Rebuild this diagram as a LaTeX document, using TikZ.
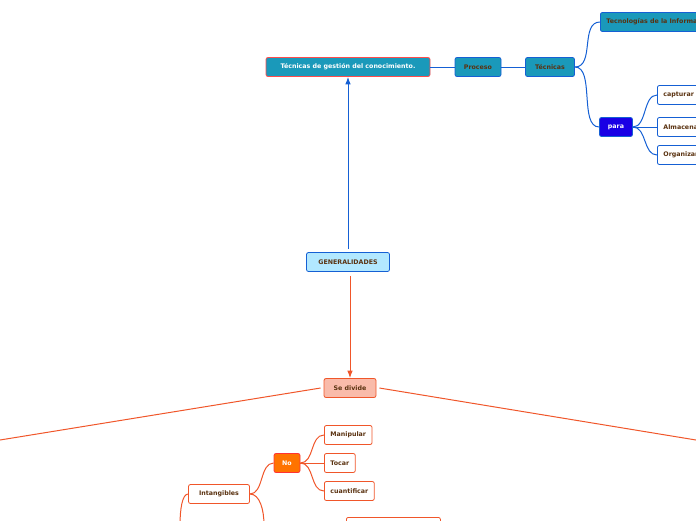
\documentclass[tikz,border=0pt]{standalone}
\usepackage{fontspec}
\setmainfont{DejaVu Sans}
\usetikzlibrary{arrows.meta,positioning}
\definecolor{teal1}{HTML}{1A99BA}
\definecolor{blue1}{HTML}{1560D4}
\definecolor{brown1}{HTML}{5A3210}
\definecolor{orange1}{HTML}{F0562A}
\tikzset{
  box/.style={rounded corners=2pt,line width=0.8pt,minimum height=19,inner xsep=6pt,
    font=\fontsize{6.3}{7}\selectfont\bfseries,text=brown1},
  tbox/.style={box,fill=teal1,draw=blue1},
  wbox/.style={box,fill=white,draw=blue1},
  obox/.style={box,fill=white,draw=orange1},
  bl/.style={blue1,line width=1pt},
  ol/.style={orange1,line width=1pt}
}
\begin{document}
\begin{tikzpicture}[x=1pt,y=-1pt,>=Latex]
  \clip (0,0) rectangle (696,520);
  \useasboundingbox (0,0) rectangle (696,520);
  %
  % Upper branch
  \node[tbox,draw=red!70,text=white,minimum width=164] (tecg) at (348,67) {Técnicas de gestión del conocimiento.};
  \node[tbox,minimum width=46] (proc) at (478,67) {Proceso};
  \node[tbox,minimum width=49] (tec) at (550,67) {Técnicas};
  \node[tbox,anchor=west] (tic) at (600,22) {Tecnologías de la Información};
  \node[box,fill=blue!80!violet,draw=blue1,text=white,minimum width=33] (para) at (616,127) {para};
  \node[wbox,anchor=west] (capt) at (657,95) {capturar};
  \node[wbox,anchor=west] (alma) at (657,127) {Almacenar};
  \node[wbox,anchor=west] (orga) at (657,155) {Organizar};
  %
  \draw[bl] (tecg) -- (proc);
  \draw[bl] (proc) -- (tec);
  \draw[bl] (tec.east) .. controls +(20,0) and +(-20,0) .. (tic.west);
  \draw[bl] (tec.east) .. controls +(20,0) and +(-20,0) .. (para.west);
  \draw[bl] (para.east) .. controls +(14,0) and +(-14,0) .. (capt.west);
  \draw[bl] (para) -- (alma);
  \draw[bl] (para.east) .. controls +(14,0) and +(-14,0) .. (orga.west);
  %
  % Centre
  \node[box,fill=blue!30!cyan!30,draw=blue1,minimum width=83] (gen) at (348,262) {GENERALIDADES};
  \node[box,fill=orange1!40,draw=orange1,minimum width=52] (sed) at (350,388) {Se divide};
  \draw[bl,->] ([yshift=3]gen.north) -- (tecg.south);
  \draw[ol,->] ([yshift=-4]gen.south -| sed.north) -- (sed.north);
  %
  % Lower branch
  \coordinate (lft) at (0,440);
  \coordinate (rgt) at (696,440);
  \draw[ol] ([xshift=-3]sed.west) -- (lft);
  \draw[ol] ([xshift=3]sed.east) -- (rgt);
  \node[obox,minimum width=61] (intg) at (219,494) {Intangibles};
  \node[box,fill=orange!90!red,draw=red!80,text=white,minimum width=26] (no) at (287,463) {No};
  \node[obox,anchor=west] (mani) at (324,435) {Manipular};
  \node[obox,anchor=west] (toca) at (324,463) {Tocar};
  \node[obox,anchor=west] (cuan) at (324,491) {cuantificar};
  \node[obox,anchor=north west,minimum width=94] (next) at (346,517) {};
  \coordinate (dl) at (180,525);
  \coordinate (dr) at (264,525);
  \draw[ol] (no.east) .. controls +(14,0) and +(-14,0) .. (mani.west);
  \draw[ol] (no) -- (toca);
  \draw[ol] (no.east) .. controls +(14,0) and +(-14,0) .. (cuan.west);
  \draw[ol] (intg.east) .. controls +(14,0) and +(-14,0) .. (no.west);
  \draw[ol] (intg.east) .. controls +(10,0) and +(0,-15) .. (dr);
  \draw[ol] (intg.west) .. controls +(-6,0) and +(0,-15) .. (dl);
\end{tikzpicture}
\end{document}
